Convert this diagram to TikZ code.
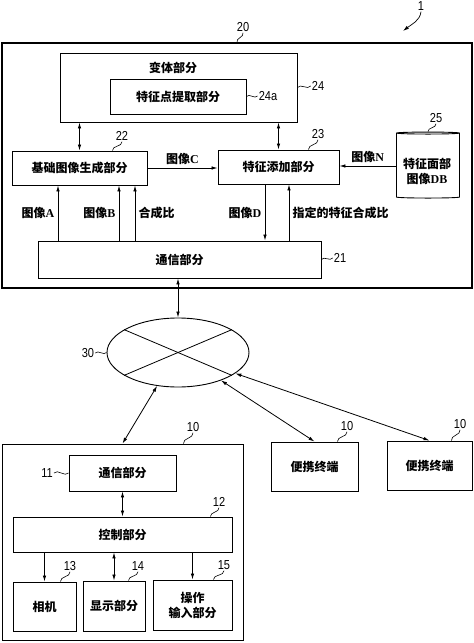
\documentclass[tikz,border=0pt]{standalone}
\usepackage{fontspec}
\setmainfont{Noto Sans CJK SC}
\newfontfamily\latinbold{Liberation Serif}
\newfontfamily\numfont[FakeStretch=0.85]{Liberation Sans}
\usetikzlibrary{shapes, arrows.meta, positioning}

\newcommand{\imgtag}[1]{图像{\latinbold\bfseries #1}}

\tikzset{
	block/.style={draw, rectangle, line width=0.9pt, inner sep=0pt,
		font=\fontsize{12}{15}\selectfont\bfseries},
	sig/.style={font=\fontsize{12}{15}\selectfont\bfseries},
	numlabel/.style={font=\numfont\fontsize{13}{13}\selectfont, inner sep=1pt},
	leader/.style={line width=0.6pt, out=50, in=-130, relative},
	arr/.style={line width=0.8pt, -{Latex[length=6pt, width=3.5pt]}},
	darr/.style={line width=0.8pt, {Latex[length=6pt, width=3.5pt]}-{Latex[length=6pt, width=3.5pt]}}
}

\begin{document}
\begin{tikzpicture}[x=1pt, y=-1pt]
					\useasboundingbox (0,0) rectangle (474,643);
					% Server block
					\node[block,
					line width=1.3pt,
					minimum width=470pt,
					minimum height=245pt] (b20) at (237,165.5) {};
					\node[numlabel] (n20) at (243,27) {20};
					\draw[leader] (n20.south) to (b20.north);
					% System label
					\node[numlabel] (n1) at (421,6) {1};
					\coordinate (p1) at (403,31);
					\draw[arr, line width=0.7pt] (n1.south) .. controls +(-1,9) and +(9,-7) .. (p1);
					% Deformation block
					\node[block,
					minimum width=237pt,
					minimum height=69pt] (b24) at (178.5,87.5) {};
					\node[sig] (t24) at (173,68) {变体部分};
					\node[block,
					minimum width=136pt,
					minimum height=35pt] (b24a) at (178,96.5) {特征点提取部分};
					\node[numlabel] (n24) at (318,86) {24};
					\draw[leader] (b24.east) to (n24.west);
					\node[numlabel] (n24a) at (268,96) {24a};
					\draw[leader] (b24a.east) to (n24a.west);
					% Base image block
					\node[block,
					minimum width=135pt,
					minimum height=34pt] (b22) at (79.5,168) {基础图像生成部分};
					\node[numlabel] (n22) at (122,136) {22};
					\draw[leader] (n22.south) to ([xshift=-35pt]b22.north east);
					% Feature adding block
					\node[block,
					minimum width=121pt,
					minimum height=34pt] (b23) at (278.5,167) {特征添加部分};
					\node[numlabel] (n23) at (318,134) {23};
					\draw[leader] (n23.south) to ([xshift=-31pt]b23.north east);
					% Face database
					\node[draw,
					cylinder,
					shape border rotate=90,
					aspect=0.3,
					line width=0.9pt,
					minimum width=63pt,
					minimum height=66pt] (db25) at (428,166) {};
					\node[sig, align=center] (t25) at (427,171) {特征面部\\\imgtag{DB}};
					\node[numlabel] (n25) at (436,118) {25};
					\draw[leader] (n25.south) to (db25.north);
					% Communication block
					\node[block,
					minimum width=283pt,
					minimum height=37pt] (b21) at (179.5,259.5) {通信部分};
					\node[numlabel] (n21) at (340,258) {21};
					\draw[leader] (b21.east) to (n21.west);
					% Arrows inside the server
					\draw[darr] (b22.north) -- (b22.north |- b24.south);
					\draw[darr] (b23.north) -- (b23.north |- b24.south);
					\draw[arr] (b22.east) -- node[sig, above] {\imgtag{C}} (b22.east -| b23.west);
					\draw[arr] (db25.west) -- node[sig, above] {\imgtag{N}} (db25.west -| b23.east);
					\coordinate (pA) at ([xshift=-21.5pt]b22.south);
					\coordinate (pB) at ([xshift=39.5pt]b22.south);
					\coordinate (pR) at ([xshift=55.5pt]b22.south);
					\coordinate (pD) at ([xshift=-13.5pt]b23.south);
					\coordinate (pF) at ([xshift=10.5pt]b23.south);
					\draw[arr] (b21.north -| pA) -- node[sig, left] {\imgtag{A}} (pA);
					\draw[arr] (b21.north -| pB) -- node[sig, left] {\imgtag{B}} (pB);
					\draw[arr] (b21.north -| pR) -- node[sig, right] {合成比} (pR);
					\draw[arr] (pD) -- node[sig, left] {\imgtag{D}} (b21.north -| pD);
					\draw[arr] (b21.north -| pF) -- node[sig, right] {指定的特征合成比} (pF);
					% Network
					\node[draw,
					ellipse,
					line width=0.9pt,
					minimum width=142pt,
					minimum height=69pt] (ell30) at (178,352.5) {};
					\draw[line width=0.8pt] (ell30.157) -- (ell30.-23);
					\draw[line width=0.8pt] (ell30.23) -- (ell30.203);
					\node[numlabel] (n30) at (88,353) {30};
					\draw[leader] (n30.east) to (ell30.west);
					% Terminal blocks
					\node[block,
					minimum width=241pt,
					minimum height=196pt] (b10L) at (122.5,542) {};
					\node[numlabel] (n10L) at (193,427) {10};
					\draw[leader] (n10L.south) to ([xshift=-60pt]b10L.north east);
					\node[block,
					minimum width=87pt,
					minimum height=49pt] (b10M) at (314.5,466.5) {便携终端};
					\node[numlabel] (n10M) at (347,426) {10};
					\draw[leader] (n10M.south) to ([xshift=-21pt]b10M.north east);
					\node[block,
					minimum width=85pt,
					minimum height=49pt] (b10R) at (429.5,465.5) {便携终端};
					\node[numlabel] (n10R) at (460,424) {10};
					\draw[leader] (n10R.south) to ([xshift=-21pt]b10R.north east);
					% Network arrows
					\draw[darr] (b21.south -| ell30.north) -- (ell30.north);
					\draw[darr] (ell30.238) -- (b10L.north);
					\draw[darr] (ell30.-33) -- (b10M.north);
					\draw[darr] (ell30.-20) -- (b10R.north);
					% Inside the terminal
					\node[block,
					minimum width=107pt,
					minimum height=36pt] (b11) at (122.5,473) {通信部分};
					\node[numlabel] (n11) at (47,473) {11};
					\draw[leader] (n11.east) to (b11.west);
					\node[block,
					minimum width=219pt,
					minimum height=35pt] (b12) at (122.5,534.5) {控制部分};
					\node[numlabel] (n12) at (219,502) {12};
					\draw[leader] (n12.south) to ([xshift=-22pt]b12.north east);
					\node[block,
					minimum width=63pt,
					minimum height=49pt] (b13) at (44.5,606.5) {相机};
					\node[numlabel] (n13) at (70,566) {13};
					\draw[leader] (n13.south) to ([xshift=-16pt]b13.north east);
					\node[block,
					minimum width=62pt,
					minimum height=50pt] (b14) at (114,606) {显示部分};
					\node[numlabel] (n14) at (138,566) {14};
					\draw[leader] (n14.south) to ([xshift=-17pt]b14.north east);
					\node[block,
					align=center,
					minimum width=79pt,
					minimum height=50pt] (b15) at (192.5,605) {操作\\输入部分};
					\node[numlabel] (n15) at (224,565) {15};
					\draw[leader] (n15.south) to ([xshift=-19pt]b15.north east);
					% Terminal arrows
					\draw[darr] (b11.south) -- (b12.north);
					\draw[arr] (b12.south -| b13.north) -- (b13.north);
					\draw[darr] (b12.south -| b14.north) -- (b14.north);
					\draw[arr] (b12.south -| b15.north) -- (b15.north);
					\end{tikzpicture}
\end{document}
